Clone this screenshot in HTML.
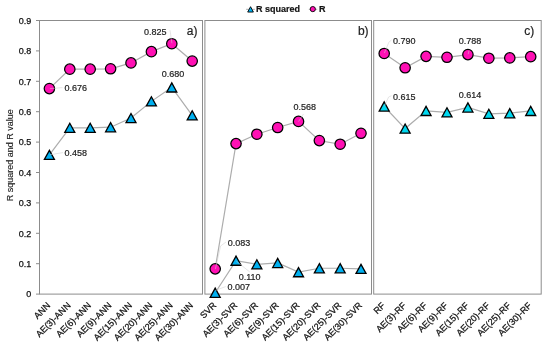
<!DOCTYPE html>
<html><head><meta charset="utf-8"><title>R squared and R</title>
<style>html,body{margin:0;padding:0;background:#fff;}svg{display:block}</style></head>
<body>
<svg width="550" height="349" viewBox="0 0 550 349" font-family="'Liberation Sans', Arial, sans-serif" font-size="9" fill="#222" >
<style>text{stroke:#222;stroke-width:0.2px;} .ax{fill:#111;stroke:#111;stroke-width:0.25px;}</style>
<rect width="550" height="349" fill="#fff"/>
<rect x="39.5" y="20.5" width="163.0" height="273.6" fill="none" stroke="#8c8c8c" stroke-width="1"/>
<rect x="204.9" y="20.5" width="166.6" height="273.6" fill="none" stroke="#8c8c8c" stroke-width="1"/>
<rect x="373.7" y="20.5" width="167.50000000000006" height="273.6" fill="none" stroke="#8c8c8c" stroke-width="1"/>
<line x1="36" x2="39.5" y1="294.10" y2="294.10" stroke="#8c8c8c" stroke-width="1"/>
<text class="ax" x="31.3" y="297.30" text-anchor="end">0</text>
<line x1="36" x2="39.5" y1="263.70" y2="263.70" stroke="#8c8c8c" stroke-width="1"/>
<text class="ax" x="31.3" y="266.90" text-anchor="end">0.1</text>
<line x1="36" x2="39.5" y1="233.30" y2="233.30" stroke="#8c8c8c" stroke-width="1"/>
<text class="ax" x="31.3" y="236.50" text-anchor="end">0.2</text>
<line x1="36" x2="39.5" y1="202.90" y2="202.90" stroke="#8c8c8c" stroke-width="1"/>
<text class="ax" x="31.3" y="206.10" text-anchor="end">0.3</text>
<line x1="36" x2="39.5" y1="172.50" y2="172.50" stroke="#8c8c8c" stroke-width="1"/>
<text class="ax" x="31.3" y="175.70" text-anchor="end">0.4</text>
<line x1="36" x2="39.5" y1="142.10" y2="142.10" stroke="#8c8c8c" stroke-width="1"/>
<text class="ax" x="31.3" y="145.30" text-anchor="end">0.5</text>
<line x1="36" x2="39.5" y1="111.70" y2="111.70" stroke="#8c8c8c" stroke-width="1"/>
<text class="ax" x="31.3" y="114.90" text-anchor="end">0.6</text>
<line x1="36" x2="39.5" y1="81.30" y2="81.30" stroke="#8c8c8c" stroke-width="1"/>
<text class="ax" x="31.3" y="84.50" text-anchor="end">0.7</text>
<line x1="36" x2="39.5" y1="50.90" y2="50.90" stroke="#8c8c8c" stroke-width="1"/>
<text class="ax" x="31.3" y="54.10" text-anchor="end">0.8</text>
<line x1="36" x2="39.5" y1="20.50" y2="20.50" stroke="#8c8c8c" stroke-width="1"/>
<text class="ax" x="31.3" y="23.70" text-anchor="end">0.9</text>
<text transform="translate(12.5,155.3) rotate(-90)" text-anchor="middle" style="fill:#1c1c1c;stroke:#1c1c1c;stroke-width:0.12px">R squared and R value</text>
<line x1="246.1" x2="254.9" y1="9.3" y2="9.3" stroke="#adadad" stroke-width="1"/>
<polygon points="250.55,6.7 247.7,12.05 253.4,12.05" fill="#00B0F0" stroke="#000" stroke-width="0.9" stroke-linejoin="miter"/>
<text x="255.9" y="12.3" font-weight="bold" fill="#111">R squared</text>
<line x1="308.8" x2="317.2" y1="9.3" y2="9.3" stroke="#adadad" stroke-width="1"/>
<circle cx="312.8" cy="9.1" r="2.6" fill="#FF10B4" stroke="#000" stroke-width="0.9"/>
<text x="318.9" y="12.3" font-weight="bold" fill="#111">R</text>
<polyline points="49.40,154.87 69.80,127.81 90.20,127.81 110.60,127.20 131.00,118.08 151.40,101.36 171.80,87.38 192.20,115.35" fill="none" stroke="#adadad" stroke-width="1.2"/>
<polyline points="49.40,88.60 69.80,69.14 90.20,69.14 110.60,68.78 131.00,62.91 151.40,51.66 171.80,43.70 192.20,61.08" fill="none" stroke="#adadad" stroke-width="1.2"/>
<polygon points="49.40,150.32 44.40,159.47 54.40,159.47" fill="#00B0F0" stroke="#000" stroke-width="1.3" stroke-linejoin="miter"/>
<polygon points="69.80,123.26 64.80,132.41 74.80,132.41" fill="#00B0F0" stroke="#000" stroke-width="1.3" stroke-linejoin="miter"/>
<polygon points="90.20,123.26 85.20,132.41 95.20,132.41" fill="#00B0F0" stroke="#000" stroke-width="1.3" stroke-linejoin="miter"/>
<polygon points="110.60,122.65 105.60,131.80 115.60,131.80" fill="#00B0F0" stroke="#000" stroke-width="1.3" stroke-linejoin="miter"/>
<polygon points="131.00,113.53 126.00,122.68 136.00,122.68" fill="#00B0F0" stroke="#000" stroke-width="1.3" stroke-linejoin="miter"/>
<polygon points="151.40,96.81 146.40,105.96 156.40,105.96" fill="#00B0F0" stroke="#000" stroke-width="1.3" stroke-linejoin="miter"/>
<polygon points="171.80,82.83 166.80,91.98 176.80,91.98" fill="#00B0F0" stroke="#000" stroke-width="1.3" stroke-linejoin="miter"/>
<polygon points="192.20,110.80 187.20,119.95 197.20,119.95" fill="#00B0F0" stroke="#000" stroke-width="1.3" stroke-linejoin="miter"/>
<circle cx="49.40" cy="88.60" r="5.2" fill="#FF10B4" stroke="#000" stroke-width="1.25"/>
<circle cx="69.80" cy="69.14" r="5.2" fill="#FF10B4" stroke="#000" stroke-width="1.25"/>
<circle cx="90.20" cy="69.14" r="5.2" fill="#FF10B4" stroke="#000" stroke-width="1.25"/>
<circle cx="110.60" cy="68.78" r="5.2" fill="#FF10B4" stroke="#000" stroke-width="1.25"/>
<circle cx="131.00" cy="62.91" r="5.2" fill="#FF10B4" stroke="#000" stroke-width="1.25"/>
<circle cx="151.40" cy="51.66" r="5.2" fill="#FF10B4" stroke="#000" stroke-width="1.25"/>
<circle cx="171.80" cy="43.70" r="5.2" fill="#FF10B4" stroke="#000" stroke-width="1.25"/>
<circle cx="192.20" cy="61.08" r="5.2" fill="#FF10B4" stroke="#000" stroke-width="1.25"/>
<text x="197.4" y="34.5" font-size="12" text-anchor="end">a)</text>
<text class="ax" transform="translate(50.90,306) rotate(-45)" text-anchor="end">ANN</text>
<text class="ax" transform="translate(71.30,306) rotate(-45)" text-anchor="end">AE(3)-ANN</text>
<text class="ax" transform="translate(91.70,306) rotate(-45)" text-anchor="end">AE(6)-ANN</text>
<text class="ax" transform="translate(112.10,306) rotate(-45)" text-anchor="end">AE(9)-ANN</text>
<text class="ax" transform="translate(132.50,306) rotate(-45)" text-anchor="end">AE(15)-ANN</text>
<text class="ax" transform="translate(152.90,306) rotate(-45)" text-anchor="end">AE(20)-ANN</text>
<text class="ax" transform="translate(173.30,306) rotate(-45)" text-anchor="end">AE(25)-ANN</text>
<text class="ax" transform="translate(193.70,306) rotate(-45)" text-anchor="end">AE(30)-ANN</text>
<polyline points="215.20,292.73 236.03,260.66 256.86,264.31 277.69,262.94 298.52,272.15 319.35,268.26 340.18,268.26 361.01,268.87" fill="none" stroke="#adadad" stroke-width="1.2"/>
<polyline points="215.20,268.87 236.03,143.62 256.86,134.20 277.69,127.51 298.52,121.43 319.35,140.58 340.18,144.23 361.01,133.28" fill="none" stroke="#adadad" stroke-width="1.2"/>
<polygon points="215.20,288.18 210.20,297.33 220.20,297.33" fill="#00B0F0" stroke="#000" stroke-width="1.3" stroke-linejoin="miter"/>
<polygon points="236.03,256.11 231.03,265.26 241.03,265.26" fill="#00B0F0" stroke="#000" stroke-width="1.3" stroke-linejoin="miter"/>
<polygon points="256.86,259.76 251.86,268.91 261.86,268.91" fill="#00B0F0" stroke="#000" stroke-width="1.3" stroke-linejoin="miter"/>
<polygon points="277.69,258.39 272.69,267.54 282.69,267.54" fill="#00B0F0" stroke="#000" stroke-width="1.3" stroke-linejoin="miter"/>
<polygon points="298.52,267.60 293.52,276.75 303.52,276.75" fill="#00B0F0" stroke="#000" stroke-width="1.3" stroke-linejoin="miter"/>
<polygon points="319.35,263.71 314.35,272.86 324.35,272.86" fill="#00B0F0" stroke="#000" stroke-width="1.3" stroke-linejoin="miter"/>
<polygon points="340.18,263.71 335.18,272.86 345.18,272.86" fill="#00B0F0" stroke="#000" stroke-width="1.3" stroke-linejoin="miter"/>
<polygon points="361.01,264.32 356.01,273.47 366.01,273.47" fill="#00B0F0" stroke="#000" stroke-width="1.3" stroke-linejoin="miter"/>
<circle cx="215.20" cy="268.87" r="5.2" fill="#FF10B4" stroke="#000" stroke-width="1.25"/>
<circle cx="236.03" cy="143.62" r="5.2" fill="#FF10B4" stroke="#000" stroke-width="1.25"/>
<circle cx="256.86" cy="134.20" r="5.2" fill="#FF10B4" stroke="#000" stroke-width="1.25"/>
<circle cx="277.69" cy="127.51" r="5.2" fill="#FF10B4" stroke="#000" stroke-width="1.25"/>
<circle cx="298.52" cy="121.43" r="5.2" fill="#FF10B4" stroke="#000" stroke-width="1.25"/>
<circle cx="319.35" cy="140.58" r="5.2" fill="#FF10B4" stroke="#000" stroke-width="1.25"/>
<circle cx="340.18" cy="144.23" r="5.2" fill="#FF10B4" stroke="#000" stroke-width="1.25"/>
<circle cx="361.01" cy="133.28" r="5.2" fill="#FF10B4" stroke="#000" stroke-width="1.25"/>
<text x="368.6" y="34.5" font-size="12" text-anchor="end">b)</text>
<text class="ax" transform="translate(216.90,306) rotate(-45)" text-anchor="end">SVR</text>
<text class="ax" transform="translate(237.73,306) rotate(-45)" text-anchor="end">AE(3)-SVR</text>
<text class="ax" transform="translate(258.56,306) rotate(-45)" text-anchor="end">AE(6)-SVR</text>
<text class="ax" transform="translate(279.39,306) rotate(-45)" text-anchor="end">AE(9)-SVR</text>
<text class="ax" transform="translate(300.22,306) rotate(-45)" text-anchor="end">AE(15)-SVR</text>
<text class="ax" transform="translate(321.05,306) rotate(-45)" text-anchor="end">AE(20)-SVR</text>
<text class="ax" transform="translate(341.88,306) rotate(-45)" text-anchor="end">AE(25)-SVR</text>
<text class="ax" transform="translate(362.71,306) rotate(-45)" text-anchor="end">AE(30)-SVR</text>
<polyline points="384.20,106.47 405.13,128.57 426.06,110.88 446.99,112.31 467.92,107.44 488.85,113.83 509.78,113.22 530.71,110.88" fill="none" stroke="#adadad" stroke-width="1.2"/>
<polyline points="384.20,53.48 405.13,67.77 426.06,56.37 446.99,57.28 467.92,54.55 488.85,58.20 509.78,57.89 530.71,56.68" fill="none" stroke="#adadad" stroke-width="1.2"/>
<polygon points="384.20,101.92 379.20,111.07 389.20,111.07" fill="#00D8F0" stroke="#000" stroke-width="1.3" stroke-linejoin="miter"/>
<polygon points="405.13,124.02 400.13,133.17 410.13,133.17" fill="#00D8F0" stroke="#000" stroke-width="1.3" stroke-linejoin="miter"/>
<polygon points="426.06,106.33 421.06,115.48 431.06,115.48" fill="#00D8F0" stroke="#000" stroke-width="1.3" stroke-linejoin="miter"/>
<polygon points="446.99,107.76 441.99,116.91 451.99,116.91" fill="#00D8F0" stroke="#000" stroke-width="1.3" stroke-linejoin="miter"/>
<polygon points="467.92,102.89 462.92,112.04 472.92,112.04" fill="#00D8F0" stroke="#000" stroke-width="1.3" stroke-linejoin="miter"/>
<polygon points="488.85,109.28 483.85,118.43 493.85,118.43" fill="#00D8F0" stroke="#000" stroke-width="1.3" stroke-linejoin="miter"/>
<polygon points="509.78,108.67 504.78,117.82 514.78,117.82" fill="#00D8F0" stroke="#000" stroke-width="1.3" stroke-linejoin="miter"/>
<polygon points="530.71,106.33 525.71,115.48 535.71,115.48" fill="#00D8F0" stroke="#000" stroke-width="1.3" stroke-linejoin="miter"/>
<circle cx="384.20" cy="53.48" r="5.2" fill="#FF10B4" stroke="#000" stroke-width="1.25"/>
<circle cx="405.13" cy="67.77" r="5.2" fill="#FF10B4" stroke="#000" stroke-width="1.25"/>
<circle cx="426.06" cy="56.37" r="5.2" fill="#FF10B4" stroke="#000" stroke-width="1.25"/>
<circle cx="446.99" cy="57.28" r="5.2" fill="#FF10B4" stroke="#000" stroke-width="1.25"/>
<circle cx="467.92" cy="54.55" r="5.2" fill="#FF10B4" stroke="#000" stroke-width="1.25"/>
<circle cx="488.85" cy="58.20" r="5.2" fill="#FF10B4" stroke="#000" stroke-width="1.25"/>
<circle cx="509.78" cy="57.89" r="5.2" fill="#FF10B4" stroke="#000" stroke-width="1.25"/>
<circle cx="530.71" cy="56.68" r="5.2" fill="#FF10B4" stroke="#000" stroke-width="1.25"/>
<text x="534.3" y="34.5" font-size="12" text-anchor="end">c)</text>
<text class="ax" transform="translate(385.70,306) rotate(-45)" text-anchor="end">RF</text>
<text class="ax" transform="translate(406.63,306) rotate(-45)" text-anchor="end">AE(3)-RF</text>
<text class="ax" transform="translate(427.56,306) rotate(-45)" text-anchor="end">AE(6)-RF</text>
<text class="ax" transform="translate(448.49,306) rotate(-45)" text-anchor="end">AE(9)-RF</text>
<text class="ax" transform="translate(469.42,306) rotate(-45)" text-anchor="end">AE(15)-RF</text>
<text class="ax" transform="translate(490.35,306) rotate(-45)" text-anchor="end">AE(20)-RF</text>
<text class="ax" transform="translate(511.28,306) rotate(-45)" text-anchor="end">AE(25)-RF</text>
<text class="ax" transform="translate(532.21,306) rotate(-45)" text-anchor="end">AE(30)-RF</text>
<polyline points="49.9,88.6 62.5,87.6" fill="none" stroke="#cfcfcf" stroke-width="0.8" stroke-opacity="0.65"/>
<text x="64.6" y="91">0.676</text>
<polyline points="49.9,154.8 63,152.6" fill="none" stroke="#cfcfcf" stroke-width="0.8" stroke-opacity="0.65"/>
<text x="64.6" y="155.8">0.458</text>
<polyline points="170,30.2 171.9,43.2" fill="none" stroke="#cfcfcf" stroke-width="0.8" stroke-opacity="0.65"/>
<text x="143.9" y="34.5">0.825</text>
<text x="161.7" y="76.5">0.680</text>
<polyline points="226,242 220.6,246 215.4,269" fill="none" stroke="#cfcfcf" stroke-width="0.8" stroke-opacity="0.65"/>
<text x="227.8" y="245.7">0.083</text>
<polyline points="236.3,261.2 249.8,272" fill="none" stroke="#cfcfcf" stroke-width="0.8" stroke-opacity="0.65"/>
<text x="238.7" y="280">0.110</text>
<polyline points="215.4,290.5 225.8,286.5" fill="none" stroke="#cfcfcf" stroke-width="0.8" stroke-opacity="0.65"/>
<text x="227.5" y="289.6">0.007</text>
<polyline points="303.5,114 298.5,121.6" fill="none" stroke="#cfcfcf" stroke-width="0.8" stroke-opacity="0.65"/>
<text x="293.6" y="109.8">0.568</text>
<polyline points="391.5,40 388.9,42.2 384.4,53" fill="none" stroke="#cfcfcf" stroke-width="0.8" stroke-opacity="0.65"/>
<text x="392.9" y="44.2">0.790</text>
<polyline points="391.5,95.7 388.6,97 384.4,106.3" fill="none" stroke="#cfcfcf" stroke-width="0.8" stroke-opacity="0.65"/>
<text x="392.9" y="99.6">0.615</text>
<polyline points="469,50.5 468.2,54.2" fill="none" stroke="#cfcfcf" stroke-width="0.8" stroke-opacity="0.65"/>
<text x="458.8" y="43.9">0.788</text>
<text x="458.8" y="98.2">0.614</text>
</svg>
</body></html>
